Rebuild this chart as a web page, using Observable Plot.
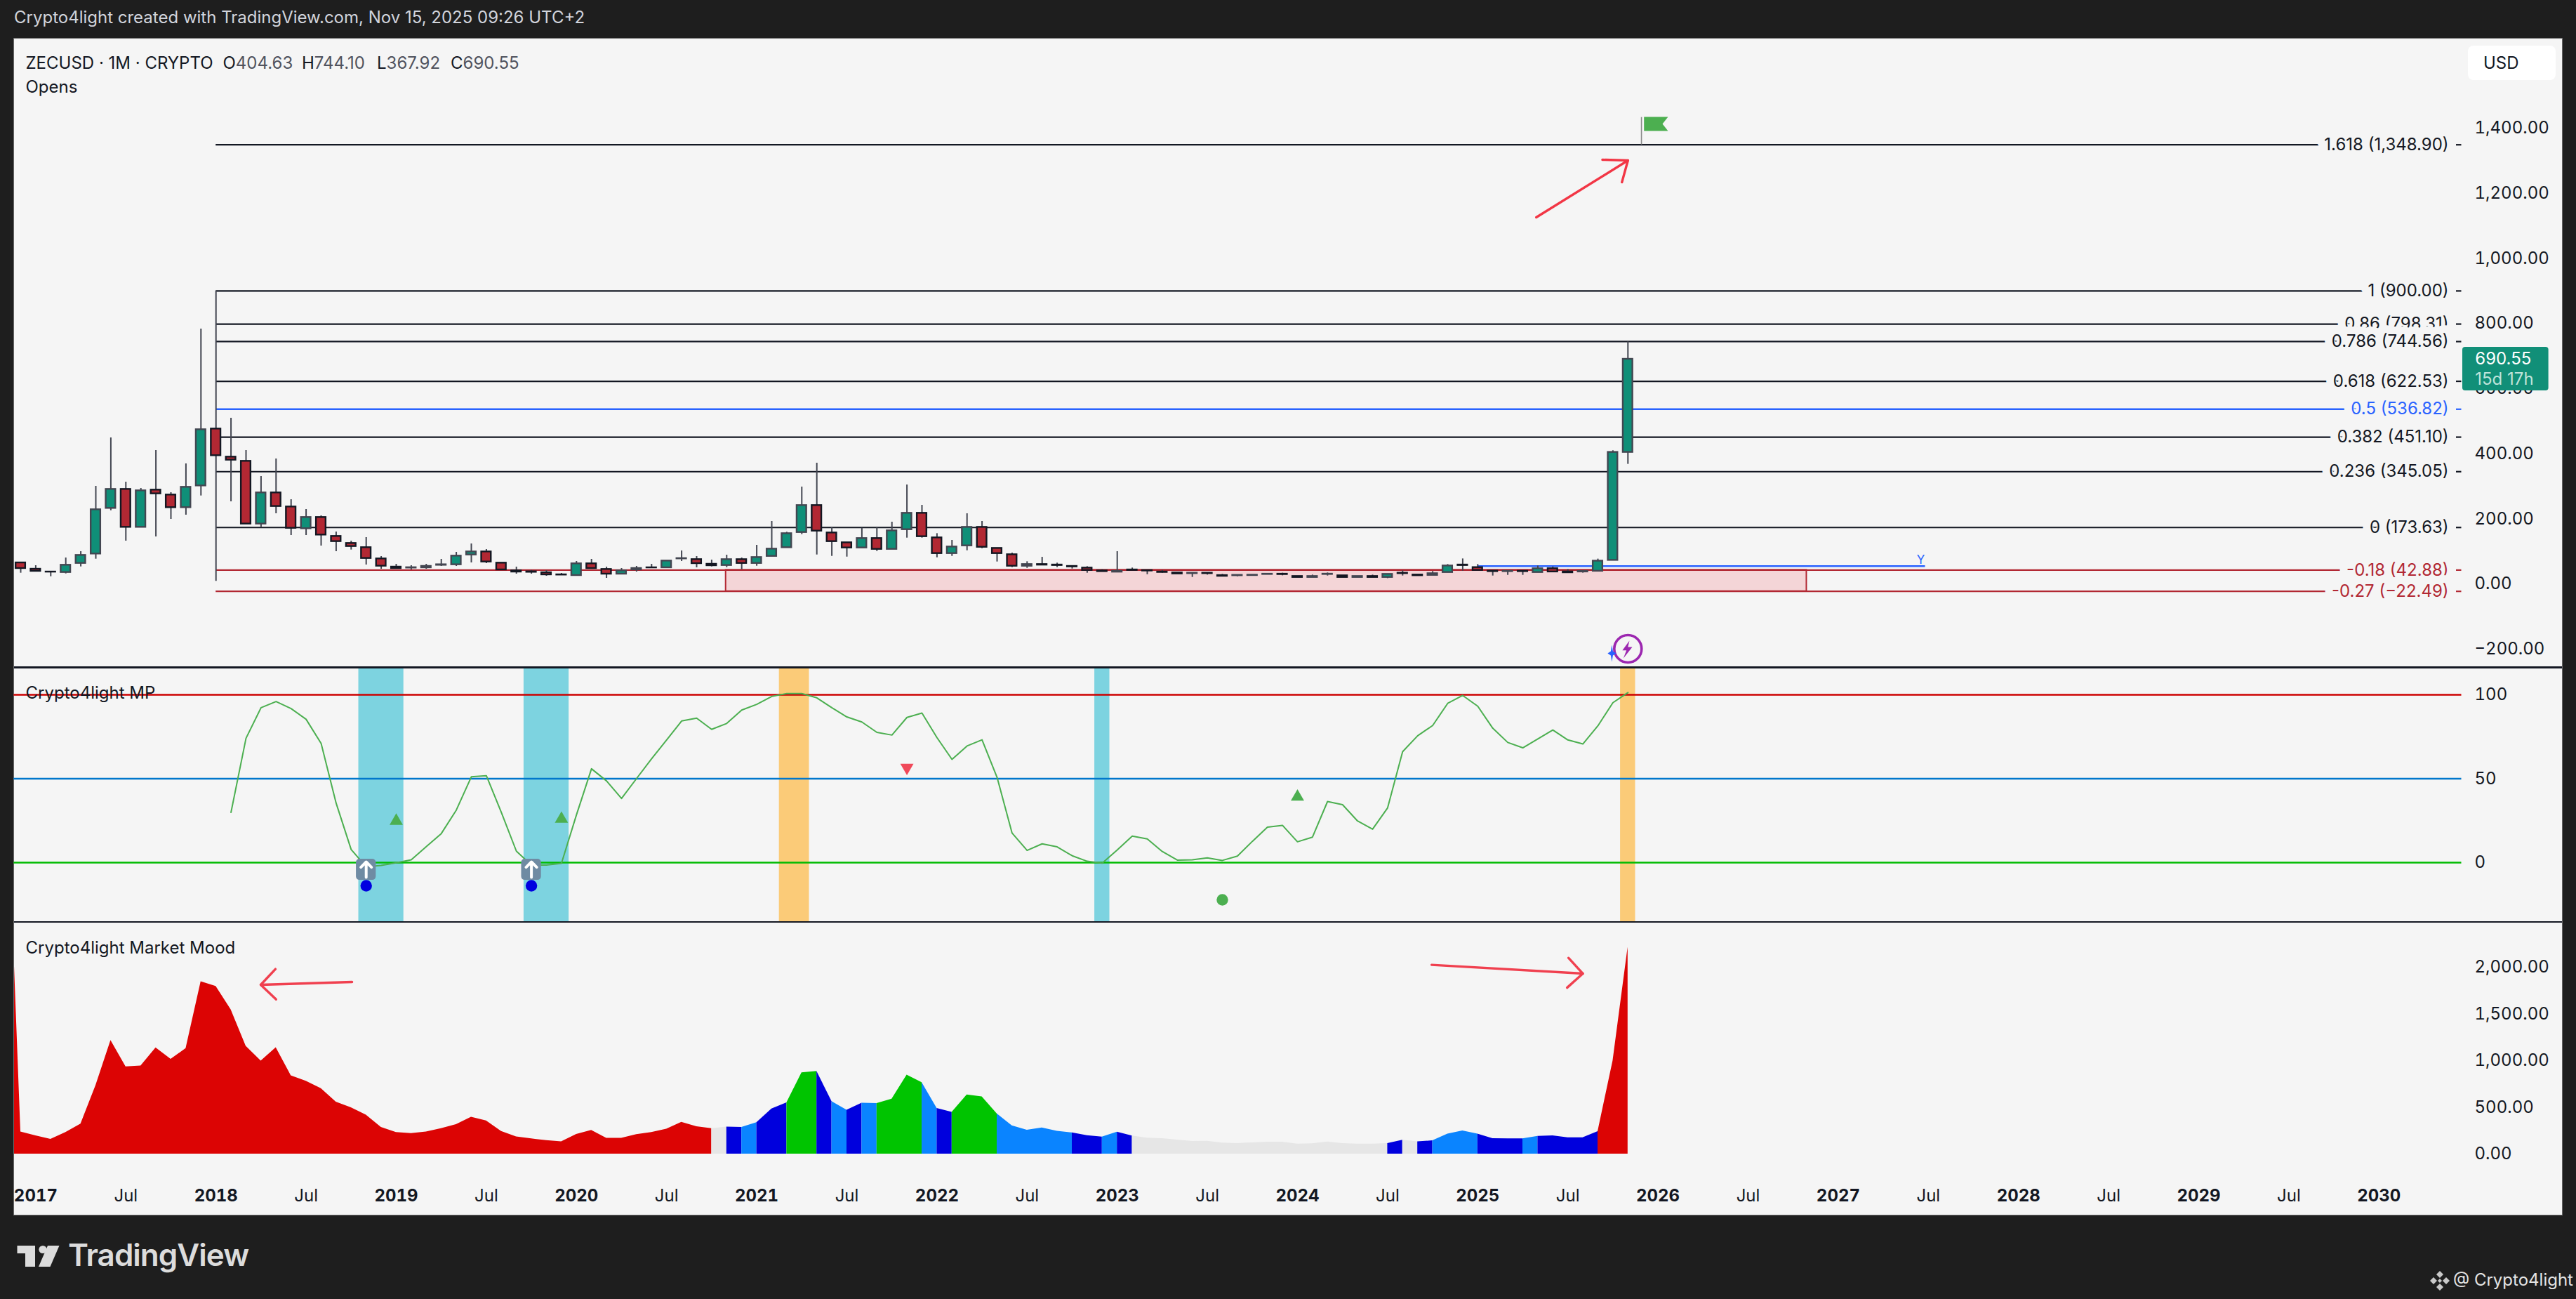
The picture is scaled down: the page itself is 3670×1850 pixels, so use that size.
<!DOCTYPE html>
<html>
<head>
<meta charset="utf-8">
<script src="https://cdn.jsdelivr.net/npm/d3@7"></script>
<script src="https://cdn.jsdelivr.net/npm/@observablehq/plot@0.6"></script>
<style>
html,body{margin:0;padding:0;background:#1e1e1e;width:3670px;height:1850px;overflow:hidden;font-family:Inter,sans-serif}
#paper{position:absolute;left:20px;top:55px;width:3630px;height:1675px;background:#f5f5f5;box-shadow:0 0 0 1px #6a6a6a}
.pane{position:absolute;left:20px}
.pane svg{display:block;overflow:visible}
.sep{position:absolute;left:20px;width:3630px;height:2.5px;background:#131722}
.t{position:absolute;white-space:pre;line-height:1;font-size:24px;color:#131722}
.g{color:#50535e}
</style>
</head>
<body>
<div id="paper"></div>
<div id="p1" class="pane" style="top:55px"></div>
<div id="p2" class="pane" style="top:950px"></div>
<div id="p3" class="pane" style="top:1313px"></div>
<div class="sep" style="top:949px"></div>
<div class="sep" style="top:1311.5px"></div>

<div class="t" style="left:20px;top:13px;color:#d1d4dc;font-size:24px" id="credit">Crypto4light created with TradingView.com, Nov 15, 2025 09:26 UTC+2</div>
<div class="t" style="left:36.5px;top:78px">ZECUSD · 1M · CRYPTO</div>
<div class="t" style="left:317.5px;top:78px">O<span class="g">404.63</span></div>
<div class="t" style="left:430px;top:78px">H<span class="g">744.10</span></div>
<div class="t" style="left:537px;top:78px">L<span class="g">367.92</span></div>
<div class="t" style="left:642px;top:78px">C<span class="g">690.55</span></div>
<div class="t" style="left:36.5px;top:112px">Opens</div>
<div class="t" style="left:36.5px;top:975px">Crypto4light MP</div>
<div class="t" style="left:36.5px;top:1338px">Crypto4light Market Mood</div>
<div style="position:absolute;left:3516px;top:65px;width:125px;height:49px;background:#fff;border-radius:8px"></div>
<div class="t" style="left:3538px;top:78px">USD</div>

<svg style="position:absolute;left:0;top:0" width="3670" height="1850">
  <g fill="#dcdcdc">
    <path d="M24.5 1774H50V1804H36V1785H24.5Z"/>
    <circle cx="61" cy="1779.5" r="5.6"/>
    <path d="M68 1774H84.5L71.5 1804H55Z"/>
  </g>
  <g fill="#c9c9c9" transform="translate(3476 1824)">
    <path d="M0-14 5-9 0-4-5-9Z"/><path d="M-9-5-4 0-9 5-14 0Z"/><path d="M9-5 14 0 9 5 4 0Z"/><path d="M0 4 5 9 0 14-5 9Z"/><path d="M0-3 3 0 0 3-3 0Z"/>
  </g>
</svg>
<div class="t" style="left:97px;top:1765px;font-size:44px;font-weight:600;color:#dcdcdc;letter-spacing:-1px">TradingView</div>
<div class="t" style="left:3495px;top:1811px;color:#e4e4e4;font-size:24px">@ Crypto4light</div>

<script>
// ---- monthly candles, index 0 = Dec 2016 ----
const opens=[65.2,45.8,37.2,35.8,63.8,92.6,232.7,290.9,174.5,288.8,273.7,234.9,301.7,476.4,390.1,377.2,184.6,280.2,237.0,170.2,204.7,146.5,124.9,112.0,77.5,52.3,49.5,50.2,58.0,59.5,89.7,99.0,64.5,40.8,37.9,35.0,28.6,26.4,62.4,45.1,30.7,43.7,50.2,50.2,77.7,75.3,61,57.3,75.2,63.7,85.3,111.9,158.6,241.3,157.2,127,111.2,140,106.9,167.2,217.6,142.1,93.9,117.6,174.4,109.7,90.3,55.1,60.2,58.7,54.4,49.4,40.6,36.9,43.6,41.5,37.2,34.3,32.4,33.5,26.3,26,26.5,29.8,30.5,23.5,20.6,29.8,25.6,20.6,23.5,20.6,33.5,28,27,35.7,58.7,50.8,39.9,38.5,39.5,35.7,47.3,37.5,37.5,39.7,73,404.63];
const highs=[65.2,56.6,37.2,80.3,99.7,300.3,449.1,313.2,293.8,410.3,280.9,369.3,783.3,476.4,509.5,410.3,330.5,384.4,259.3,229.1,209.7,160.1,132.1,142.9,84.6,60.9,56.6,60.9,76.0,97.6,123.5,106.2,64.5,52.3,42.3,41.5,32.9,69.6,76.0,52.3,48.0,54.5,60.9,71.0,102.0,84.6,73.8,88.9,80.3,119.1,192.4,159.3,298.1,371.4,173.7,127,171.6,175.2,190.2,304.5,242,155,134.2,216.1,192.4,109.7,95.4,68.8,82.4,64.5,54.4,53.7,44.3,99.7,49.4,41.5,42.2,34.3,33.5,33.5,30,27,27.5,30.5,33.6,23.5,27.8,34.3,25.6,23.5,27.8,30,40.7,28,38.6,60.2,77.4,60.2,39.9,39.5,39.5,55.8,52.6,45,39,76.8,409.6,744.10];
const lows=[33.6,39.4,22.8,31.5,53.0,76.7,225.5,132.1,174.5,145.0,198.9,211.9,270.8,394.5,252.9,184.6,173.8,216.2,149.3,149.3,117.0,99.7,104.8,58.8,45.8,48.0,43.7,45.8,54.5,54.5,65.2,63.1,43.7,30.7,30.7,24.3,28.0,26.4,48.0,17.8,30.7,37.2,49.0,50.2,69.6,50.2,53,50.8,44.3,55.1,85.3,111.9,152.2,89.6,85.3,83.1,111.2,100.4,106.9,141.4,141.4,81,85.3,102.6,109,68.1,50.8,48.6,58,50.8,46.5,33.6,38.5,36.9,42.2,29,33.6,31.4,20.6,27.8,24.2,22.8,26.5,29.8,25.6,20.6,20.6,25,20.6,20.6,20.6,17,25,26,27,35.7,40,42.2,25,27,27,35.7,37.5,35,33.7,39,73,367.92];
const closes=[48.0,39.4,37.0,58.1,88.2,228.4,290.9,174.5,286.6,277.3,234.9,297.4,474.2,394.5,380.8,184.6,280.2,238.5,171.6,204.7,150.8,130.7,115.6,78.9,55.2,48.0,50.5,54.5,59.5,86.1,99.0,68.1,43.7,37.2,36.5,28.6,28.0,62.4,48.0,30.7,40.8,48.0,50.0,71.0,78.5,63.1,56.6,75.2,63.7,81.7,107.6,155,241.3,162.9,130.6,111.2,140,106.9,163.7,217.6,145.7,93.9,114.1,174.4,113.3,93.9,55.1,60.2,58.5,57.3,53,42.2,38.5,39.3,42.2,40.5,36,31.4,33.5,32.4,24.2,27,27.5,30.5,29.5,20.6,23.5,30.6,20.6,23.5,20.6,30,32.4,26,32.1,55.8,57.3,42.2,38.5,39.5,38.5,47.2,37.5,35,39,70.7,404.63,690.55];

// ---- fibonacci levels ----
const fibValues=[1348.90,900,798.31,744.56,622.53,536.82,451.10,345.05,173.63,42.88,-22.49];
const fibLabels=["1.618 (1,348.90)","1 (900.00)","0.86 (798.31)","0.786 (744.56)","0.618 (622.53)","0.5 (536.82)","0.382 (451.10)","0.236 (345.05)","0 (173.63)","-0.18 (42.88)","-0.27 (−22.49)"];
const fibColors=["#131722","#131722","#131722","#131722","#131722","#2962ff","#131722","#131722","#131722","#b22833","#b22833"];
const fibStart=13, fibEnd=161, fibTextEnd=161.64, fibDash=[162.15,162.5];
const priceTicks=[-200,0,200,400,600,800,1000,1200,1400];

// ---- MP oscillator, first value at index 14 ----
const mpStart=14;
const mpValues=[29.9,74.1,92.3,96.0,91.8,85.4,71.0,35.4,7.8,-2.5,-1.7,-0.1,1.7,9.5,17.3,31.3,51.1,51.8,29.9,6.8,-1.5,-1.5,-0.4,28.5,55.9,48.7,38.2,50.1,61.9,73.1,84.4,86.1,79.4,82.9,90.9,94.3,99.0,100.7,100.7,98.2,92.3,86.8,83.8,77.6,76.0,86.5,89.1,74.5,61.5,69.5,73.2,50.8,17.6,7.3,11.2,9.4,4.1,0.8,-0.3,7.5,15.8,14.1,6.6,1.5,1.7,2.8,1.3,3.9,12.7,21.1,22.2,12.4,15.2,36.4,34.5,24.8,19.9,32.6,66.1,75.6,81.7,94.9,99.6,93.2,80.1,71.6,68.4,73.7,79.0,73.1,70.7,81.5,95.3,101.3];
const mpLevels=[100,50,0], mpColors=["#cc0000","#0077cc","#00bb00"];
const bandStart=[22.5,33.5,50.5,71.5,106.5], bandEnd=[25.5,36.5,52.5,72.5,107.5];
const bandColors=["#7dd3e0","#7dd3e0","#fbcb78","#7dd3e0","#fbcb78"];

// ---- market mood, first value at index -1 (off the left edge) ----
const moodStart=-1;
const moodValues=[4450,237,195,158,232,322,733,1216,934,944,1137,1015,1129,1846,1796,1545,1155,997,1139,839,781,701,556,496,417,285,232,219,237,272,316,395,356,243,185,163,145,132,211,253,169,169,208,232,266,340,293,272,290,285,337,483,548,870,886,562,469,546,541,588,846,765,488,448,633,612,430,303,256,280,245,227,198,182,235,193,171,166,150,135,137,119,113,121,127,127,108,111,129,113,108,108,113,148,132,142,214,248,214,166,163,163,190,195,174,174,240,997,2215];
const runFrom=[-1,46,47,48,49,51,53,54,55,56,57,60,61,62,65,70,72,73,74,91,92,93,94,97,100,101,105];
const runTo=[46,47,48,49,51,53,54,55,56,57,60,61,62,65,70,72,73,74,91,92,93,94,97,100,101,105,107];
const RED="#dc0404",GRY="#e6e6e6",BLU="#0000dd",LBL="#0a84ff",GRN="#00c400";
const runColors=[RED,GRY,BLU,LBL,BLU,GRN,BLU,LBL,BLU,LBL,GRN,LBL,BLU,GRN,LBL,BLU,LBL,BLU,GRY,BLU,GRY,BLU,LBL,BLU,LBL,BLU,RED];
const moodTicks=[0,500,1000,1500,2000];

// ---- time axis ----
const yearLabels=["2017","2018","2019","2020","2021","2022","2023","2024","2025","2026","2027","2028","2029","2030"];
const yearTicks=[1,13,25,37,49,61,73,85,97,109,121,133,145,157];
const julTicks=[7,19,31,43,55,67,79,91,103,115,127,139,151];

// ---- hand-drawn annotations (index, price) ----
const arrowUp=[[[100.9,1126],[107.0,1300.8]],[[105.3,1303],[107.0,1300.8],[106.6,1234]]];
const arrowLeft=[[[22.06,1842],[15.98,1812]],[[16.96,1980],[15.98,1812],[17,1656]]];
const arrowRight=[[[93.93,2025],[104,1932]],[[103.04,2100],[104,1932],[102.95,1781]]];
const flagShape=[[108.07,1434.6],[109.67,1434.6],[109.3,1413],[109.67,1391.5],[108.07,1391.5]];
const boltShape=[[107.1,-174],[106.63,-204],[106.9,-204],[106.7,-228],[107.29,-193.6],[107.0,-193.6]];
const sparkShape=[[105.93,-186.8],[106.0,-206.3],[106.21,-212.8],[106.0,-219.3],[105.93,-238.8],[105.86,-219.3],[105.65,-212.8],[105.86,-206.3]];

const candles=opens.map((o,i)=>({i,o,h:highs[i],l:lows[i],c:closes[i]}));
const ups=candles.filter(d=>d.c>=d.o), downs=candles.filter(d=>d.c<d.o);
const halfBody=0.32;
const xScale={type:"linear",domain:[0,162.5],range:[9,3486.5],axis:null};
const W=3630, MR=125;
const base={width:W,marginLeft:0,marginRight:MR,marginTop:0,style:{background:"transparent",fontFamily:"Inter,sans-serif",fontSize:"24px",color:"#131722",overflow:"visible"}};
const XY=p=>({x:p[0],y:p[1]});
const stroke=(pts,color,w)=>Plot.line(pts.map(XY),{x:"x",y:"y",stroke:color,strokeWidth:w,strokeLinecap:"round",strokeLinejoin:"round",curve:"linear"});
const shape=(pts,color)=>Plot.line(pts.concat([pts[0]]).map(XY),{x:"x",y:"y",fill:color,stroke:"none",curve:"linear"});

const fib=fibValues.map((v,k)=>({v,label:fibLabels[k],color:fibColors[k]}));
const byColor=c=>fib.filter(d=>d.color===c);
const fibColorSet=[...new Set(fibColors)];

// ---- pane 1 ----
const p1=Plot.plot({...base,height:895,marginBottom:0,
  x:xScale,y:{type:"linear",domain:[1400,-200],range:[127,869],axis:null},
  marks:[
    Plot.axisY(priceTicks,{anchor:"right",tickSize:0,tickPadding:0,tickFormat:d3.format(",.2f"),label:null,fontSize:24,color:"#131722"}),
    Plot.rect([0],{x1:()=>46.95,x2:()=>118.9,y1:()=>42.88,y2:()=>-22.49,fill:"#f4d5d7",stroke:"#b22833",strokeWidth:2}),
    ...fibColorSet.map(c=>Plot.ruleY(byColor(c),{y:"v",x1:fibStart,x2:fibEnd,stroke:c,strokeWidth:c==="#2962ff"?2.4:2.2})),
    Plot.ruleX([fibStart],{y1:900,y2:8.6,stroke:"#434651",strokeWidth:2}),
    ...fibColorSet.map(c=>Plot.text(byColor(c),{x:fibTextEnd,y:"v",text:"label",textAnchor:"end",fill:c,fontSize:24,stroke:"#f5f5f5",strokeWidth:22,paintOrder:"stroke"})),
    ...fibColorSet.map(c=>Plot.ruleY(byColor(c),{y:"v",x1:fibDash[0],x2:fibDash[1],stroke:c,strokeWidth:2.2})),
    Plot.ruleY([54.9],{x1:97,x2:126.8,stroke:"#2962ff",strokeWidth:2.4}),
    Plot.text(["Y"],{x:()=>126.5,y:()=>74,fill:"#2962ff",fontSize:17}),
    Plot.ruleX(candles,{x:"i",y1:"l",y2:"h",stroke:"#434651",strokeWidth:2}),
    Plot.rect(ups,{x1:d=>d.i-halfBody,x2:d=>d.i+halfBody,y1:"o",y2:"c",fill:"#0f8f78",stroke:"#434651",strokeWidth:2.4}),
    Plot.rect(downs,{x1:d=>d.i-halfBody,x2:d=>d.i+halfBody,y1:"o",y2:"c",fill:"#b22833",stroke:"#131722",strokeWidth:2.4}),
    Plot.ruleX([107.9],{y1:1348.9,y2:1433,stroke:"#8a8a8a",strokeWidth:1.6}),
    shape(flagShape,"#4caf50"),
    ...arrowUp.map(a=>stroke(a,"#f23645",3.4)),
    Plot.dot([107],{x:d=>d,y:()=>-199,r:19.5,fill:"#f5f5f5",stroke:"#9c27b0",strokeWidth:3.6}),
    shape(boltShape,"#9c27b0"),
    shape(sparkShape,"#2962ff"),
    Plot.rect([0],{x1:()=>162.57,x2:()=>168.3,y1:()=>727.3,y2:()=>593.6,fill:"#118f78",rx:4}),
    Plot.text(["690.55"],{x:()=>163.4,y:()=>closes[107],textAnchor:"start",fill:"#fff",fontSize:24}),
    Plot.text(["15d 17h"],{x:()=>163.4,y:()=>628,textAnchor:"start",fill:"#bfe3da",fontSize:24})
  ]});
document.getElementById("p1").append(p1);

// ---- pane 2 ----
const mp=mpValues.map((v,k)=>({i:k+mpStart,v}));
const bands=bandStart.map((a,k)=>({a,b:bandEnd[k],c:bandColors[k]}));
const iconAt=[23,34], dotBlue=[23,34];
const p2=Plot.plot({...base,height:362,marginBottom:0,
  x:xScale,y:{type:"linear",domain:[0,100],range:[278,39],axis:null},
  marks:[
    Plot.axisY(mpLevels,{anchor:"right",tickSize:0,tickPadding:0,tickFormat:d=>String(d),label:null,fontSize:24,color:"#131722"}),
    ...bandColors.map((c,k)=>Plot.rect([bands[k]],{x1:"a",x2:"b",y1:()=>-35.4,y2:()=>116.3,fill:c})),
    ...mpLevels.map((v,k)=>Plot.ruleY([v],{x1:-0.45,x2:162.5,stroke:mpColors[k],strokeWidth:2.5})),
    Plot.line(mp,{x:"i",y:"v",stroke:"#4caf50",strokeWidth:2,curve:"linear"}),
    Plot.rect(iconAt,{x1:d=>d-0.66,x2:d=>d+0.66,y1:()=>2.1,y2:()=>-10.5,fill:"#6f8ba3",rx:5}),
    Plot.vector(iconAt,{x:d=>d,y:()=>-4.2,length:22,anchor:"middle",stroke:"#fff",strokeWidth:4,r:6}),
    Plot.dot(dotBlue,{x:d=>d,y:()=>-13.8,r:8.2,fill:"#0000e0"}),
    Plot.dot([25,36,85],{x:d=>d,y:(d,k)=>[24.8,26,39.2][k],r:7,symbol:"triangle",fill:"#4caf50"}),
    Plot.dot([59],{x:d=>d,y:()=>56.6,r:7,symbol:"triangle",rotate:180,fill:"#f0495a"}),
    Plot.dot([80],{x:d=>d,y:()=>-22.2,r:8.2,fill:"#4caf50"})
  ]});
document.getElementById("p2").append(p2);

// ---- pane 3 ----
const mood=moodValues.map((v,k)=>({i:k+moodStart,v}));
const p3=Plot.plot({...base,height:416.5,marginBottom:40,
  x:xScale,y:{type:"linear",domain:[0,2000],range:[330,64],axis:null},
  marks:[
    Plot.axisY(moodTicks,{anchor:"right",tickSize:0,tickPadding:0,tickFormat:d3.format(",.2f"),label:null,fontSize:24,color:"#131722"}),
    ...runColors.map((c,k)=>Plot.areaY(mood.filter(d=>d.i>=runFrom[k]&&d.i<=runTo[k]),{x:"i",y:"v",fill:c,curve:"linear",clip:true})),
    ...arrowLeft.map(a=>stroke(a,"#f0404f",3.4)),
    ...arrowRight.map(a=>stroke(a,"#f0404f",3.4)),
    Plot.axisX(yearTicks,{anchor:"bottom",tickSize:0,tickPadding:4,tickFormat:d=>yearLabels[yearTicks.indexOf(d)],fontWeight:700,fontSize:24,label:null,color:"#131722"}),
    Plot.axisX(julTicks,{anchor:"bottom",tickSize:0,tickPadding:4,tickFormat:()=>"Jul",fontSize:24,label:null,color:"#131722"})
  ]});
document.getElementById("p3").append(p3);
</script>
</body>
</html>
